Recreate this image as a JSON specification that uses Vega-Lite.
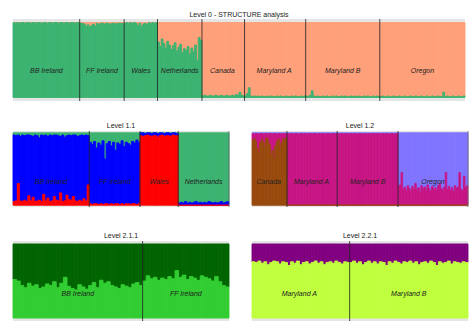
{
"$schema": "https://vega.github.io/schema/vega-lite/v6.json",
"background": "white",
"padding": {"left": 12, "top": 10, "right": 2, "bottom": 2},
"spacing": 19,
"config": {
  "view": {"stroke": null, "fill": "#e5e5e5"},
  "axis": {"disable": true},
  "title": {"fontSize": 7, "fontWeight": "normal", "font": "Liberation Sans", "color": "#222", "offset": 2},
  "text": {"font": "Liberation Sans", "fontSize": 7, "fontStyle": "italic", "fill": "#222"},
  "rule": {"stroke": "#222", "strokeWidth": 0.8},
  "bar": {"strokeWidth": 0.9}
},
"datasets": {
"lab": [
{"p":"BB Ireland","i":19},{"p":"FF Ireland","i":49},{"p":"Wales","i":70},{"p":"Netherlands","i":91},
{"p":"Canada","i":114},{"p":"Maryland A","i":142},{"p":"Maryland B","i":179},{"p":"Oregon","i":222}],
"sep": [
{"p":"FF Ireland","i":37},{"p":"Wales","i":61},{"p":"Netherlands","i":79},{"p":"Canada","i":103},
{"p":"Maryland A","i":126},{"p":"Maryland B","i":159},{"p":"Oregon","i":199}],
"ind": [
{"p":"BB Ireland","i":1,"a":1,"b":0.05,"c":0.97,"d":0.52},
{"p":"BB Ireland","i":2,"a":0.99,"b":0.06,"c":0.96,"d":0.50},
{"p":"BB Ireland","i":3,"a":1,"b":0.30,"c":0.97,"d":0.44},
{"p":"BB Ireland","i":4,"a":0.99,"b":0.06,"c":0.95,"d":0.41},
{"p":"BB Ireland","i":5,"a":1,"b":0.05,"c":0.97,"d":0.47},
{"p":"BB Ireland","i":6,"a":1,"b":0.07,"c":0.96,"d":0.43},
{"p":"BB Ireland","i":7,"a":0.99,"b":0.05,"c":0.97,"d":0.45},
{"p":"BB Ireland","i":8,"a":1,"b":0.13,"c":0.97,"d":0.40},
{"p":"BB Ireland","i":9,"a":1,"b":0.06,"c":0.96,"d":0.42},
{"p":"BB Ireland","i":10,"a":0.99,"b":0.11,"c":0.95,"d":0.46},
{"p":"BB Ireland","i":11,"a":1,"b":0.05,"c":0.97,"d":0.44},
{"p":"BB Ireland","i":12,"a":1,"b":0.06,"c":0.96,"d":0.49},
{"p":"BB Ireland","i":13,"a":0.99,"b":0.07,"c":0.93,"d":0.41},
{"p":"BB Ireland","i":14,"a":1,"b":0.05,"c":0.97,"d":0.47},
{"p":"BB Ireland","i":15,"a":1,"b":0.15,"c":0.96,"d":0.55},
{"p":"BB Ireland","i":16,"a":0.99,"b":0.06,"c":0.97,"d":0.43},
{"p":"BB Ireland","i":17,"a":1,"b":0.10,"c":0.95,"d":0.40},
{"p":"BB Ireland","i":18,"a":1,"b":0.05,"c":0.97,"d":0.38},
{"p":"BB Ireland","i":19,"a":0.99,"b":0.06,"c":0.96,"d":0.45},
{"p":"BB Ireland","i":20,"a":1,"b":0.12,"c":0.97,"d":0.42},
{"p":"BB Ireland","i":21,"a":1,"b":0.07,"c":0.97,"d":0.39},
{"p":"BB Ireland","i":22,"a":0.99,"b":0.06,"c":0.96,"d":0.44},
{"p":"BB Ireland","i":23,"a":1,"b":0.17,"c":0.95,"d":0.48},
{"p":"BB Ireland","i":24,"a":1,"b":0.05,"c":0.97,"d":0.41},
{"p":"BB Ireland","i":25,"a":0.99,"b":0.06,"c":0.94,"d":0.51},
{"p":"BB Ireland","i":26,"a":1,"b":0.14,"c":0.96,"d":0.47},
{"p":"BB Ireland","i":27,"a":1,"b":0.08,"c":0.97,"d":0.49},
{"p":"BB Ireland","i":28,"a":0.99,"b":0.07,"c":0.96,"d":0.44},
{"p":"BB Ireland","i":29,"a":1,"b":0.12,"c":0.97,"d":0.42},
{"p":"BB Ireland","i":30,"a":1,"b":0.06,"c":0.97,"d":0.40},
{"p":"BB Ireland","i":31,"a":0.99,"b":0.05,"c":0.95,"d":0.45},
{"p":"BB Ireland","i":32,"a":1,"b":0.07,"c":0.96,"d":0.43},
{"p":"BB Ireland","i":33,"a":1,"b":0.05,"c":0.97,"d":0.41},
{"p":"BB Ireland","i":34,"a":0.99,"b":0.09,"c":0.96,"d":0.46},
{"p":"BB Ireland","i":35,"a":1,"b":0.06,"c":0.97,"d":0.48},
{"p":"BB Ireland","i":36,"a":1,"b":0.28,"c":0.96,"d":0.44},
{"p":"FF Ireland","i":37,"a":0.99,"b":0.02,"c":0.87,"d":0.50},
{"p":"FF Ireland","i":38,"a":0.99,"b":0.01,"c":0.84,"d":0.57},
{"p":"FF Ireland","i":39,"a":0.98,"b":0.02,"c":0.88,"d":0.53},
{"p":"FF Ireland","i":40,"a":0.95,"b":0.02,"c":0.79,"d":0.55},
{"p":"FF Ireland","i":41,"a":0.97,"b":0.01,"c":0.86,"d":0.51},
{"p":"FF Ireland","i":42,"a":0.94,"b":0.02,"c":0.83,"d":0.54},
{"p":"FF Ireland","i":43,"a":0.96,"b":0.01,"c":0.89,"d":0.52},
{"p":"FF Ireland","i":44,"a":0.98,"b":0.02,"c":0.64,"d":0.56},
{"p":"FF Ireland","i":45,"a":0.95,"b":0.02,"c":0.85,"d":0.53},
{"p":"FF Ireland","i":46,"a":0.99,"b":0.01,"c":0.88,"d":0.64},
{"p":"FF Ireland","i":47,"a":0.97,"b":0.02,"c":0.82,"d":0.55},
{"p":"FF Ireland","i":48,"a":0.99,"b":0.01,"c":0.87,"d":0.58},
{"p":"FF Ireland","i":49,"a":0.99,"b":0.02,"c":0.76,"d":0.52},
{"p":"FF Ireland","i":50,"a":0.98,"b":0.02,"c":0.86,"d":0.56},
{"p":"FF Ireland","i":51,"a":0.99,"b":0.01,"c":0.84,"d":0.54},
{"p":"FF Ireland","i":52,"a":0.99,"b":0.02,"c":0.89,"d":0.51},
{"p":"FF Ireland","i":53,"a":0.97,"b":0.01,"c":0.81,"d":0.57},
{"p":"FF Ireland","i":54,"a":0.99,"b":0.02,"c":0.87,"d":0.55},
{"p":"FF Ireland","i":55,"a":0.99,"b":0.02,"c":0.85,"d":0.53},
{"p":"FF Ireland","i":56,"a":0.98,"b":0.01,"c":0.83,"d":0.50},
{"p":"FF Ireland","i":57,"a":0.99,"b":0.02,"c":0.88,"d":0.56},
{"p":"FF Ireland","i":58,"a":0.99,"b":0.02,"c":0.86,"d":0.49},
{"p":"FF Ireland","i":59,"a":0.99,"b":0.01,"c":0.90,"d":0.44},
{"p":"FF Ireland","i":60,"a":0.99,"b":0.02,"c":0.87,"d":0.42},
{"p":"Wales","i":61,"a":0.99,"b":0.96,"c":1},
{"p":"Wales","i":62,"a":1,"b":0.95,"c":1},
{"p":"Wales","i":63,"a":0.99,"b":0.96,"c":0.99},
{"p":"Wales","i":64,"a":1,"b":0.97,"c":1},
{"p":"Wales","i":65,"a":0.99,"b":0.96,"c":1},
{"p":"Wales","i":66,"a":1,"b":0.95,"c":0.99},
{"p":"Wales","i":67,"a":0.99,"b":0.96,"c":1},
{"p":"Wales","i":68,"a":0.96,"b":0.96,"c":1},
{"p":"Wales","i":69,"a":0.99,"b":0.94,"c":0.99},
{"p":"Wales","i":70,"a":0.95,"b":0.96,"c":1},
{"p":"Wales","i":71,"a":0.98,"b":0.97,"c":1},
{"p":"Wales","i":72,"a":0.99,"b":0.95,"c":0.99},
{"p":"Wales","i":73,"a":0.97,"b":0.96,"c":1},
{"p":"Wales","i":74,"a":1,"b":0.96,"c":1},
{"p":"Wales","i":75,"a":0.99,"b":0.95,"c":0.99},
{"p":"Wales","i":76,"a":1,"b":0.97,"c":1},
{"p":"Wales","i":77,"a":0.99,"b":0.96,"c":1},
{"p":"Wales","i":78,"a":1,"b":0.96,"c":0.99},
{"p":"Netherlands","i":79,"a":0.74,"b":0,"c":0.03},
{"p":"Netherlands","i":80,"a":0.68,"b":0,"c":0.04},
{"p":"Netherlands","i":81,"a":0.78,"b":0,"c":0.03},
{"p":"Netherlands","i":82,"a":0.72,"b":0,"c":0.05},
{"p":"Netherlands","i":83,"a":0.66,"b":0,"c":0.03},
{"p":"Netherlands","i":84,"a":0.75,"b":0,"c":0.04},
{"p":"Netherlands","i":85,"a":0.70,"b":0,"c":0.03},
{"p":"Netherlands","i":86,"a":0.64,"b":0,"c":0.04},
{"p":"Netherlands","i":87,"a":0.69,"b":0,"c":0.05},
{"p":"Netherlands","i":88,"a":0.73,"b":0,"c":0.03},
{"p":"Netherlands","i":89,"a":0.62,"b":0,"c":0.04},
{"p":"Netherlands","i":90,"a":0.67,"b":0,"c":0.03},
{"p":"Netherlands","i":91,"a":0.71,"b":0,"c":0.04},
{"p":"Netherlands","i":92,"a":0.60,"b":0,"c":0.03},
{"p":"Netherlands","i":93,"a":0.65,"b":0,"c":0.05},
{"p":"Netherlands","i":94,"a":0.63,"b":0,"c":0.04},
{"p":"Netherlands","i":95,"a":0.68,"b":0,"c":0.03},
{"p":"Netherlands","i":96,"a":0.58,"b":0,"c":0.04},
{"p":"Netherlands","i":97,"a":0.66,"b":0,"c":0.03},
{"p":"Netherlands","i":98,"a":0.61,"b":0,"c":0.04},
{"p":"Netherlands","i":99,"a":0.70,"b":0,"c":0.05},
{"p":"Netherlands","i":100,"a":0.50,"b":0,"c":0.03},
{"p":"Netherlands","i":101,"a":0.80,"b":0,"c":0.04},
{"p":"Netherlands","i":102,"a":0.76,"b":0,"c":0.05},
{"p":"Canada","i":103,"a":0.02,"b":0.90,"c":0.99},
{"p":"Canada","i":104,"a":0.03,"b":0.92,"c":0.98},
{"p":"Canada","i":105,"a":0.02,"b":0.88,"c":0.99},
{"p":"Canada","i":106,"a":0.02,"b":0.78,"c":0.99},
{"p":"Canada","i":107,"a":0.03,"b":0.72,"c":0.98},
{"p":"Canada","i":108,"a":0.02,"b":0.86,"c":0.99},
{"p":"Canada","i":109,"a":0.02,"b":0.91,"c":0.99},
{"p":"Canada","i":110,"a":0.03,"b":0.87,"c":0.98},
{"p":"Canada","i":111,"a":0.02,"b":0.80,"c":0.99},
{"p":"Canada","i":112,"a":0.02,"b":0.93,"c":0.99},
{"p":"Canada","i":113,"a":0.03,"b":0.90,"c":0.98},
{"p":"Canada","i":114,"a":0.02,"b":0.84,"c":0.99},
{"p":"Canada","i":115,"a":0.02,"b":0.70,"c":0.99},
{"p":"Canada","i":116,"a":0.03,"b":0.76,"c":0.98},
{"p":"Canada","i":117,"a":0.02,"b":0.64,"c":0.99},
{"p":"Canada","i":118,"a":0.02,"b":0.82,"c":0.99},
{"p":"Canada","i":119,"a":0.03,"b":0.88,"c":0.98},
{"p":"Canada","i":120,"a":0.02,"b":0.91,"c":0.99},
{"p":"Canada","i":121,"a":0.04,"b":0.79,"c":0.99},
{"p":"Canada","i":122,"a":0.03,"b":0.86,"c":0.98},
{"p":"Canada","i":123,"a":0.07,"b":0.92,"c":0.99},
{"p":"Canada","i":124,"a":0.03,"b":0.89,"c":0.99},
{"p":"Canada","i":125,"a":0.02,"b":0.93,"c":0.98},
{"p":"Maryland A","i":126,"a":0.02,"b":0,"c":0.99,"d":0.76},
{"p":"Maryland A","i":127,"a":0.05,"b":0,"c":0.98,"d":0.75},
{"p":"Maryland A","i":128,"a":0.13,"b":0,"c":0.99,"d":0.77},
{"p":"Maryland A","i":129,"a":0.02,"b":0,"c":0.99,"d":0.74},
{"p":"Maryland A","i":130,"a":0.01,"b":0,"c":0.98,"d":0.76},
{"p":"Maryland A","i":131,"a":0.02,"b":0,"c":0.99,"d":0.72},
{"p":"Maryland A","i":132,"a":0.01,"b":0,"c":0.99,"d":0.75},
{"p":"Maryland A","i":133,"a":0.02,"b":0,"c":0.98,"d":0.77},
{"p":"Maryland A","i":134,"a":0.01,"b":0,"c":0.99,"d":0.76},
{"p":"Maryland A","i":135,"a":0.02,"b":0,"c":0.99,"d":0.73},
{"p":"Maryland A","i":136,"a":0.01,"b":0,"c":0.98,"d":0.76},
{"p":"Maryland A","i":137,"a":0.01,"b":0,"c":0.99,"d":0.75},
{"p":"Maryland A","i":138,"a":0.02,"b":0,"c":0.99,"d":0.71},
{"p":"Maryland A","i":139,"a":0.01,"b":0,"c":0.98,"d":0.76},
{"p":"Maryland A","i":140,"a":0.02,"b":0,"c":0.99,"d":0.74},
{"p":"Maryland A","i":141,"a":0.01,"b":0,"c":0.99,"d":0.77},
{"p":"Maryland A","i":142,"a":0.01,"b":0,"c":0.98,"d":0.72},
{"p":"Maryland A","i":143,"a":0.02,"b":0,"c":0.99,"d":0.75},
{"p":"Maryland A","i":144,"a":0.01,"b":0,"c":0.99,"d":0.76},
{"p":"Maryland A","i":145,"a":0.02,"b":0,"c":0.98,"d":0.73},
{"p":"Maryland A","i":146,"a":0.01,"b":0,"c":0.99,"d":0.75},
{"p":"Maryland A","i":147,"a":0.01,"b":0,"c":0.99,"d":0.77},
{"p":"Maryland A","i":148,"a":0.02,"b":0,"c":0.98,"d":0.74},
{"p":"Maryland A","i":149,"a":0.01,"b":0,"c":0.99,"d":0.76},
{"p":"Maryland A","i":150,"a":0.01,"b":0,"c":0.99,"d":0.72},
{"p":"Maryland A","i":151,"a":0.02,"b":0,"c":0.98,"d":0.75},
{"p":"Maryland A","i":152,"a":0.01,"b":0,"c":0.99,"d":0.76},
{"p":"Maryland A","i":153,"a":0.02,"b":0,"c":0.99,"d":0.74},
{"p":"Maryland A","i":154,"a":0.01,"b":0,"c":0.98,"d":0.77},
{"p":"Maryland A","i":155,"a":0.01,"b":0,"c":0.99,"d":0.75},
{"p":"Maryland A","i":156,"a":0.02,"b":0,"c":0.99,"d":0.73},
{"p":"Maryland A","i":157,"a":0.01,"b":0,"c":0.98,"d":0.76},
{"p":"Maryland A","i":158,"a":0.02,"b":0,"c":0.99,"d":0.75},
{"p":"Maryland B","i":159,"a":0.02,"b":0,"c":0.99,"d":0.75},
{"p":"Maryland B","i":160,"a":0.01,"b":0,"c":0.98,"d":0.77},
{"p":"Maryland B","i":161,"a":0.03,"b":0,"c":0.99,"d":0.74},
{"p":"Maryland B","i":162,"a":0.09,"b":0,"c":0.99,"d":0.76},
{"p":"Maryland B","i":163,"a":0.02,"b":0,"c":0.98,"d":0.72},
{"p":"Maryland B","i":164,"a":0.01,"b":0,"c":0.99,"d":0.75},
{"p":"Maryland B","i":165,"a":0.02,"b":0,"c":0.99,"d":0.77},
{"p":"Maryland B","i":166,"a":0.01,"b":0,"c":0.98,"d":0.74},
{"p":"Maryland B","i":167,"a":0.01,"b":0,"c":0.99,"d":0.76},
{"p":"Maryland B","i":168,"a":0.02,"b":0,"c":0.99,"d":0.73},
{"p":"Maryland B","i":169,"a":0.01,"b":0,"c":0.98,"d":0.76},
{"p":"Maryland B","i":170,"a":0.02,"b":0,"c":0.99,"d":0.75},
{"p":"Maryland B","i":171,"a":0.01,"b":0,"c":0.99,"d":0.71},
{"p":"Maryland B","i":172,"a":0.01,"b":0,"c":0.98,"d":0.76},
{"p":"Maryland B","i":173,"a":0.02,"b":0,"c":0.99,"d":0.74},
{"p":"Maryland B","i":174,"a":0.01,"b":0,"c":0.99,"d":0.77},
{"p":"Maryland B","i":175,"a":0.02,"b":0,"c":0.98,"d":0.75},
{"p":"Maryland B","i":176,"a":0.01,"b":0,"c":0.99,"d":0.73},
{"p":"Maryland B","i":177,"a":0.01,"b":0,"c":0.99,"d":0.76},
{"p":"Maryland B","i":178,"a":0.02,"b":0,"c":0.98,"d":0.75},
{"p":"Maryland B","i":179,"a":0.01,"b":0,"c":0.99,"d":0.77},
{"p":"Maryland B","i":180,"a":0.02,"b":0,"c":0.99,"d":0.74},
{"p":"Maryland B","i":181,"a":0.01,"b":0,"c":0.98,"d":0.76},
{"p":"Maryland B","i":182,"a":0.01,"b":0,"c":0.99,"d":0.72},
{"p":"Maryland B","i":183,"a":0.02,"b":0,"c":0.99,"d":0.75},
{"p":"Maryland B","i":184,"a":0.01,"b":0,"c":0.98,"d":0.76},
{"p":"Maryland B","i":185,"a":0.02,"b":0,"c":0.99,"d":0.74},
{"p":"Maryland B","i":186,"a":0.01,"b":0,"c":0.99,"d":0.77},
{"p":"Maryland B","i":187,"a":0.02,"b":0,"c":0.98,"d":0.75},
{"p":"Maryland B","i":188,"a":0.01,"b":0,"c":0.99,"d":0.71},
{"p":"Maryland B","i":189,"a":0.01,"b":0,"c":0.99,"d":0.76},
{"p":"Maryland B","i":190,"a":0.02,"b":0,"c":0.98,"d":0.74},
{"p":"Maryland B","i":191,"a":0.01,"b":0,"c":0.99,"d":0.75},
{"p":"Maryland B","i":192,"a":0.02,"b":0,"c":0.99,"d":0.77},
{"p":"Maryland B","i":193,"a":0.01,"b":0,"c":0.98,"d":0.73},
{"p":"Maryland B","i":194,"a":0.01,"b":0,"c":0.99,"d":0.76},
{"p":"Maryland B","i":195,"a":0.02,"b":0,"c":0.99,"d":0.75},
{"p":"Maryland B","i":196,"a":0.01,"b":0,"c":0.98,"d":0.74},
{"p":"Maryland B","i":197,"a":0.02,"b":0,"c":0.99,"d":0.76},
{"p":"Maryland B","i":198,"a":0.01,"b":0,"c":0.99,"d":0.75},
{"p":"Oregon","i":199,"a":0.01,"b":0,"c":0.26},
{"p":"Oregon","i":200,"a":0.02,"b":0,"c":0.28},
{"p":"Oregon","i":201,"a":0.01,"b":0,"c":0.45},
{"p":"Oregon","i":202,"a":0.01,"b":0,"c":0.22},
{"p":"Oregon","i":203,"a":0.02,"b":0,"c":0.25},
{"p":"Oregon","i":204,"a":0.01,"b":0,"c":0.20},
{"p":"Oregon","i":205,"a":0.01,"b":0,"c":0.27},
{"p":"Oregon","i":206,"a":0.02,"b":0,"c":0.23},
{"p":"Oregon","i":207,"a":0.01,"b":0,"c":0.19},
{"p":"Oregon","i":208,"a":0.01,"b":0,"c":0.26},
{"p":"Oregon","i":209,"a":0.02,"b":0,"c":0.22},
{"p":"Oregon","i":210,"a":0.01,"b":0,"c":0.30},
{"p":"Oregon","i":211,"a":0.01,"b":0,"c":0.21},
{"p":"Oregon","i":212,"a":0.02,"b":0,"c":0.24},
{"p":"Oregon","i":213,"a":0.01,"b":0,"c":0.18},
{"p":"Oregon","i":214,"a":0.01,"b":0,"c":0.27},
{"p":"Oregon","i":215,"a":0.02,"b":0,"c":0.22},
{"p":"Oregon","i":216,"a":0.01,"b":0,"c":0.25},
{"p":"Oregon","i":217,"a":0.01,"b":0,"c":0.20},
{"p":"Oregon","i":218,"a":0.02,"b":0,"c":0.28},
{"p":"Oregon","i":219,"a":0.01,"b":0,"c":0.23},
{"p":"Oregon","i":220,"a":0.01,"b":0,"c":0.19},
{"p":"Oregon","i":221,"a":0.02,"b":0,"c":0.26},
{"p":"Oregon","i":222,"a":0.01,"b":0,"c":0.22},
{"p":"Oregon","i":223,"a":0.01,"b":0,"c":0.24},
{"p":"Oregon","i":224,"a":0.02,"b":0,"c":0.21},
{"p":"Oregon","i":225,"a":0.01,"b":0,"c":0.27},
{"p":"Oregon","i":226,"a":0.01,"b":0,"c":0.30},
{"p":"Oregon","i":227,"a":0.02,"b":0,"c":0.23},
{"p":"Oregon","i":228,"a":0.01,"b":0,"c":0.20},
{"p":"Oregon","i":229,"a":0.01,"b":0,"c":0.25},
{"p":"Oregon","i":230,"a":0.02,"b":0,"c":0.45},
{"p":"Oregon","i":231,"a":0.01,"b":0,"c":0.22},
{"p":"Oregon","i":232,"a":0.01,"b":0,"c":0.26},
{"p":"Oregon","i":233,"a":0.07,"b":0,"c":0.21},
{"p":"Oregon","i":234,"a":0.01,"b":0,"c":0.24},
{"p":"Oregon","i":235,"a":0.02,"b":0,"c":0.19},
{"p":"Oregon","i":236,"a":0.01,"b":0,"c":0.27},
{"p":"Oregon","i":237,"a":0.01,"b":0,"c":0.23},
{"p":"Oregon","i":238,"a":0.02,"b":0,"c":0.25},
{"p":"Oregon","i":239,"a":0.01,"b":0,"c":0.45},
{"p":"Oregon","i":240,"a":0.01,"b":0,"c":0.22},
{"p":"Oregon","i":241,"a":0.02,"b":0,"c":0.20},
{"p":"Oregon","i":242,"a":0.01,"b":0,"c":0.40},
{"p":"Oregon","i":243,"a":0.01,"b":0,"c":0.24},
{"p":"Oregon","i":244,"a":0.02,"b":0,"c":0.27}
]},
"vconcat": [
{
 "title": {"text": "Level 0 - STRUCTURE analysis", "offset": 1},
 "width": 452, "height": 82,
 "layer": [
  {"data": {"name": "ind"},
   "encoding": {"x": {"field": "i", "type": "ordinal", "scale": {"paddingInner": 0, "paddingOuter": 0}}},
   "layer": [
    {"mark": {"type": "bar", "fill": "#FFA07A", "stroke": "#FFA07A"},
     "encoding": {"y": {"field": "a", "type": "quantitative", "scale": {"domain": [-0.047, 1.047], "nice": false, "zero": false}}, "y2": {"datum": 1}}},
    {"mark": {"type": "bar", "fill": "#3CB371", "stroke": "#3CB371"},
     "encoding": {"y": {"field": "a", "type": "quantitative"}, "y2": {"datum": 0}}}
   ]},
  {"data": {"name": "sep"}, "mark": "rule",
   "encoding": {"x": {"field": "i", "type": "ordinal", "bandPosition": 0}}},
  {"data": {"name": "lab"}, "mark": "text",
   "encoding": {"x": {"field": "i", "type": "ordinal", "bandPosition": 0}, "y": {"datum": 0.35}, "text": {"field": "p"}}}
 ]
},
{"spacing": 23, "vconcat": [
 {"spacing": 21, "hconcat": [
  {
   "title": "Level 1.1",
   "width": 216, "height": 76,
   "layer": [
    {"data": {"name": "ind"},
     "transform": [{"filter": {"field": "p", "oneOf": ["BB Ireland", "FF Ireland", "Wales", "Netherlands"]}}],
     "encoding": {"x": {"field": "i", "type": "ordinal", "scale": {"paddingInner": 0, "paddingOuter": 0}}},
     "layer": [
      {"mark": {"type": "bar", "fill": "#3CB371", "stroke": "#3CB371"},
       "encoding": {"y": {"field": "c", "type": "quantitative", "scale": {"domain": [-0.025, 1.025], "nice": false, "zero": false}}, "y2": {"datum": 1}}},
      {"mark": {"type": "bar", "fill": "#0000FF", "stroke": "#0000FF"},
       "encoding": {"y": {"field": "b", "type": "quantitative"}, "y2": {"field": "c"}}},
      {"mark": {"type": "bar", "fill": "#FF0000", "stroke": "#FF0000"},
       "encoding": {"y": {"field": "b", "type": "quantitative"}, "y2": {"datum": 0}}}
     ]},
    {"data": {"name": "sep"}, "transform": [{"filter": {"field": "p", "oneOf": ["FF Ireland", "Wales", "Netherlands"]}}],
     "mark": "rule", "encoding": {"x": {"field": "i", "type": "ordinal", "bandPosition": 0}}},
    {"data": {"values": [{"i": 102}]}, "mark": {"type": "rule", "stroke": "#666"},
     "encoding": {"x": {"field": "i", "type": "ordinal", "bandPosition": 1}}},
    {"data": {"name": "lab"}, "transform": [{"filter": {"field": "p", "oneOf": ["BB Ireland", "FF Ireland", "Wales", "Netherlands"]}}],
     "mark": "text",
     "encoding": {"x": {"field": "i", "type": "ordinal", "bandPosition": 0}, "y": {"datum": 0.32}, "text": {"field": "p"}}}
   ]
  },
  {
   "title": "Level 1.2",
   "width": 216, "height": 76,
   "layer": [
    {"data": {"name": "ind"},
     "transform": [{"filter": {"field": "p", "oneOf": ["Canada", "Maryland A", "Maryland B", "Oregon"]}}],
     "encoding": {"x": {"field": "i", "type": "ordinal", "scale": {"paddingInner": 0, "paddingOuter": 0}}},
     "layer": [
      {"mark": {"type": "bar", "fill": "#8075FF", "stroke": "#8075FF"},
       "encoding": {"y": {"field": "c", "type": "quantitative", "scale": {"domain": [-0.025, 1.025], "nice": false, "zero": false}}, "y2": {"datum": 1}}},
      {"mark": {"type": "bar", "fill": "#C71585", "stroke": "#C71585"},
       "encoding": {"y": {"field": "b", "type": "quantitative"}, "y2": {"field": "c"}}},
      {"mark": {"type": "bar", "fill": "#99490D", "stroke": "#99490D"},
       "encoding": {"y": {"field": "b", "type": "quantitative"}, "y2": {"datum": 0}}}
     ]},
    {"data": {"name": "sep"}, "transform": [{"filter": {"field": "p", "oneOf": ["Maryland A", "Maryland B", "Oregon"]}}],
     "mark": "rule", "encoding": {"x": {"field": "i", "type": "ordinal", "bandPosition": 0}}},
    {"data": {"values": [{"i": 244}]}, "mark": {"type": "rule", "stroke": "#666"},
     "encoding": {"x": {"field": "i", "type": "ordinal", "bandPosition": 1}}},
    {"data": {"name": "lab"}, "transform": [{"filter": {"field": "p", "oneOf": ["Canada", "Maryland A", "Maryland B", "Oregon"]}}],
     "mark": "text",
     "encoding": {"x": {"field": "i", "type": "ordinal", "bandPosition": 0}, "y": {"datum": 0.32}, "text": {"field": "p"}}}
   ]
  }
 ]},
 {"spacing": 21, "hconcat": [
  {
   "title": "Level 2.1.1",
   "width": 216, "height": 80,
   "layer": [
    {"data": {"name": "ind"},
     "transform": [{"filter": {"field": "p", "oneOf": ["BB Ireland", "FF Ireland"]}}],
     "encoding": {"x": {"field": "i", "type": "ordinal", "scale": {"paddingInner": 0, "paddingOuter": 0}}},
     "layer": [
      {"mark": {"type": "bar", "fill": "#006400", "stroke": "#006400"},
       "encoding": {"y": {"field": "d", "type": "quantitative", "scale": {"domain": [-0.04, 1.04], "nice": false, "zero": false}}, "y2": {"datum": 1}}},
      {"mark": {"type": "bar", "fill": "#32CD32", "stroke": "#32CD32"},
       "encoding": {"y": {"field": "d", "type": "quantitative"}, "y2": {"datum": 0}}}
     ]},
    {"data": {"name": "sep"}, "transform": [{"filter": {"field": "p", "oneOf": ["FF Ireland"]}}],
     "mark": "rule", "encoding": {"x": {"field": "i", "type": "ordinal", "bandPosition": 0}}},
    {"data": {"name": "lab"}, "transform": [{"filter": {"field": "p", "oneOf": ["BB Ireland", "FF Ireland"]}}],
     "mark": "text",
     "encoding": {"x": {"field": "i", "type": "ordinal", "bandPosition": 0}, "y": {"datum": 0.33}, "text": {"field": "p"}}}
   ]
  },
  {
   "title": "Level 2.2.1",
   "width": 216, "height": 80,
   "layer": [
    {"data": {"name": "ind"},
     "transform": [{"filter": {"field": "p", "oneOf": ["Maryland A", "Maryland B"]}}],
     "encoding": {"x": {"field": "i", "type": "ordinal", "scale": {"paddingInner": 0, "paddingOuter": 0}}},
     "layer": [
      {"mark": {"type": "bar", "fill": "#800080", "stroke": "#800080"},
       "encoding": {"y": {"field": "d", "type": "quantitative", "scale": {"domain": [-0.04, 1.04], "nice": false, "zero": false}}, "y2": {"datum": 1}}},
      {"mark": {"type": "bar", "fill": "#C0FF3E", "stroke": "#C0FF3E"},
       "encoding": {"y": {"field": "d", "type": "quantitative"}, "y2": {"datum": 0}}}
     ]},
    {"data": {"name": "sep"}, "transform": [{"filter": {"field": "p", "oneOf": ["Maryland B"]}}],
     "mark": "rule", "encoding": {"x": {"field": "i", "type": "ordinal", "bandPosition": 0}}},
    {"data": {"name": "lab"}, "transform": [{"filter": {"field": "p", "oneOf": ["Maryland A", "Maryland B"]}}],
     "mark": "text",
     "encoding": {"x": {"field": "i", "type": "ordinal", "bandPosition": 0}, "y": {"datum": 0.33}, "text": {"field": "p"}}}
   ]
  }
 ]}
]}
]
}
